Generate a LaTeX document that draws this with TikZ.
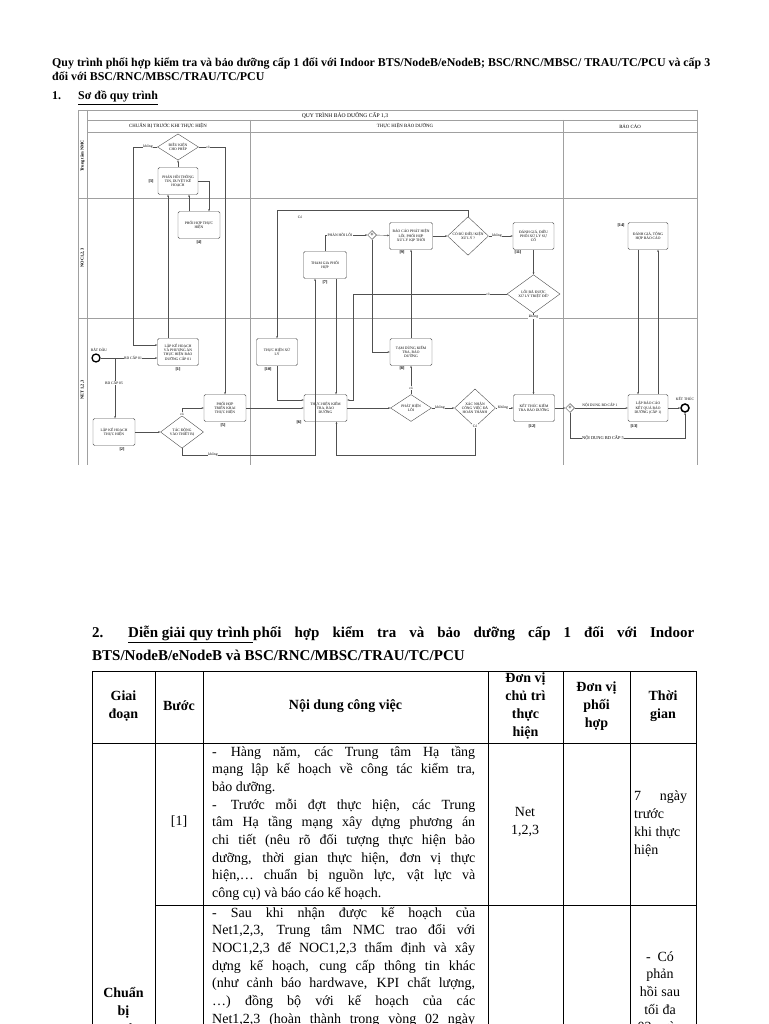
\documentclass[tikz,border=0pt]{standalone}
\usepackage{fontspec}
\setmainfont{Liberation Serif}
\usetikzlibrary{arrows.meta,positioning,calc,shapes.geometric}
\definecolor{lanegray}{HTML}{A0A0A0}
\definecolor{linegray}{HTML}{505050}
\newcommand{\dtiny}{\fontsize{3.7}{4.3}\selectfont}
\newcommand{\jl}[1]{\makebox[263pt][s]{#1}}

\begin{document}
\begin{tikzpicture}[x=1pt,y=-1pt,
    task/.style={draw=linegray, rounded corners=1.5pt, line width=0.45pt, minimum width=42pt, minimum height=27pt, align=center, font=\dtiny, inner sep=1pt},
    gate/.style={diamond, draw=linegray, line width=0.4pt, minimum width=41pt, minimum height=26pt, inner sep=0pt, align=center, font=\dtiny},
    plusgate/.style={diamond, draw=linegray, line width=0.5pt, minimum size=9pt, inner sep=0pt, font=\fontsize{6}{6}\selectfont\bfseries},
    event/.style={circle, draw=black, line width=1.1pt, minimum size=8pt, inner sep=0pt},
    flow/.style={-{Stealth[length=2.2pt,width=1.8pt]}, line width=0.4pt, color=linegray},
    lbl/.style={font=\dtiny, fill=white, inner sep=0.5pt},
    num/.style={font=\fontsize{4.2}{4.5}\selectfont\bfseries, inner sep=0pt},
    lane/.style={draw=lanegray, line width=0.6pt},
    tbl/.style={draw=black, line width=0.9pt},
    cell/.style={font=\fontsize{14}{17.7}\selectfont, inner sep=0pt, align=left},
    hcell/.style={font=\fontsize{14}{18}\selectfont\bfseries, inner sep=0pt, align=center},
    tfont/.style={font=\fontsize{11.9}{13}\selectfont\bfseries, inner sep=0pt}
]
\useasboundingbox (0,0) rectangle (768,1024);
\clip (0,0) rectangle (768,1024);
\fill[white] (0,0) rectangle (768,1024);

% title
\node[tfont, anchor=base west] (title1) at (52,67) {Quy trình phối hợp kiểm tra và bảo dưỡng cấp 1 đối với Indoor BTS/NodeB/eNodeB; BSC/RNC/MBSC/ TRAU/TC/PCU và cấp 3};
\node[tfont, anchor=base west] (title2) at (52,81) {đối với BSC/RNC/MBSC/TRAU/TC/PCU};
\node[tfont, anchor=base west] (sec1) at (52,100) {1.};
\node[tfont, anchor=base west] (sec1t) at (78,100) {\underline{Sơ đồ quy trình}};

% swimlanes
\draw[lane] (78,110) -- (697,110);
\draw[lane] (87,120) -- (697,120);
\draw[lane] (87,132) -- (697,132);
\draw[lane] (78,198) -- (697,198);
\draw[lane] (78,318) -- (697,318);
\draw[lane] (78,110) -- (78,465);
\draw[lane] (87,110) -- (87,465);
\draw[lane] (250,120) -- (250,465);
\draw[lane] (563,120) -- (563,465);
\draw[lane] (697,110) -- (697,465);

\node[font=\fontsize{5.6}{6}\selectfont] (dtitle) at (345,115) {QUY TRÌNH BẢO DƯỠNG CẤP 1,3};
\node[font=\fontsize{4.8}{5}\selectfont] (ph1) at (168,126) {CHUẨN BỊ TRƯỚC KHI THỰC HIỆN};
\node[font=\fontsize{4.8}{5}\selectfont] (ph2) at (405,126) {THỰC HIỆN BẢO DƯỠNG};
\node[font=\fontsize{4.8}{5}\selectfont] (ph3) at (630,126) {BÁO CÁO};
\node[rotate=90, font=\fontsize{4.4}{5}\selectfont\bfseries] (lnmc) at (82.5,156) {Trung tâm NMC};
\node[rotate=90, font=\fontsize{4.4}{5}\selectfont\bfseries] (lnoc) at (82.5,258) {NOC1,2,3};
\node[rotate=90, font=\fontsize{4.4}{5}\selectfont\bfseries] (lnet) at (82.5,390) {NET 1,2,3};

% NMC lane
\node[gate] (d1) at (178,147) {ĐIỀU KIỆN\\CHO PHÉP};
\node[task, minimum width=40pt] (t3) at (178,181) {PHẢN HỒI THÔNG\\TIN, DUYỆT KẾ\\HOẠCH};
\node[num] (n3) at (151,181) {[3]};

% NOC lane
\node[task] (t4) at (199,225) {PHỐI HỢP THỰC\\HIỆN};
\node[num] (n4) at (199,242) {[4]};
\node[task, minimum width=43pt] (t7) at (325,265) {THAM GIA PHỐI\\HỢP};
\node[num] (n7) at (325,282) {[7]};
\node[plusgate] (g1) at (372,235) {+};
\node[task, minimum width=43pt] (t9) at (411,236) {BÁO CÁO PHÁT HIỆN\\LỖI, PHỐI HỢP\\XỬ LÝ KỊP THỜI};
\node[num] (n9) at (402,252) {[9]};
\node[gate] (d2) at (468,236) {CÓ ĐỦ ĐIỀU KIỆN\\XỬ LÝ ?};
\node[task, minimum width=41pt] (t11) at (533.5,236) {ĐÁNH GIÁ, ĐIỀU\\PHỐI XỬ LÝ SỰ\\CỐ};
\node[num] (n11) at (518,252) {[11]};
\node[gate, minimum width=53pt, minimum height=28pt] (d3) at (533.5,294) {LỖI ĐÃ ĐƯỢC\\XỬ LÝ TRIỆT ĐỂ?};
\node[task, minimum width=40pt] (t14) at (648,236) {ĐÁNH GIÁ, TỔNG\\HỢP BÁO CÁO};
\node[num] (n14) at (621,225) {[14]};

% NET lane
\node[event, line width=1.3pt] (start) at (96,358) {};
\node[font=\dtiny] (lstart) at (99,350) {BẮT ĐẦU};
\node[task, minimum width=41pt] (t1) at (178,352) {LẬP KẾ HOẠCH\\VÀ PHƯƠNG ÁN\\THỰC HIỆN BẢO\\DƯỠNG CẤP 01};
\node[num] (n1) at (178,369) {[1]};
\node[task] (t2) at (114,432) {LẬP KẾ HOẠCH\\THỰC HIỆN};
\node[num] (n2) at (122,449) {[2]};
\node[gate, minimum width=43pt] (d4) at (182,432) {TÁC ĐỘNG\\VÀO THIẾT BỊ};
\node[task] (t5) at (225,408) {PHỐI HỢP\\TRIỂN KHAI\\THỰC HIỆN};
\node[num] (n5) at (223,425.5) {[5]};
\node[task, minimum width=41pt] (t10) at (277,352) {THỰC HIỆN XỬ\\LÝ};
\node[num] (n10) at (268,369) {[10]};
\node[task, minimum width=43pt] (t6) at (325.5,408) {THỰC HIỆN KIỂM\\TRA, BẢO\\DƯỠNG};
\node[num] (n6) at (299,422) {[6]};
\node[task] (t8) at (411,352) {TẠM DỪNG KIỂM\\TRA, BẢO\\DƯỠNG};
\node[num] (n8) at (402,368) {[8]};
\node[gate] (d5) at (411,408) {PHÁT HIỆN\\LỖI};
\node[gate] (d6) at (475,408) {XÁC NHẬN\\CÔNG VIỆC ĐÃ\\HOÀN THÀNH};
\node[task, minimum width=41pt] (t12) at (534,408) {KẾT THÚC KIỂM\\TRA BẢO DƯỠNG};
\node[num] (n12) at (532,426) {[12]};
\node[plusgate] (g2) at (570,408) {+};
\node[task, minimum width=40pt] (t13) at (648,408) {LẬP BÁO CÁO\\KẾT QUẢ BẢO\\DƯỠNG (CẤP 1)};
\node[num] (n13) at (634,426) {[13]};
\node[event, line width=1.5pt] (endev) at (685,408) {};
\node[font=\dtiny] (lend) at (685,399) {KẾT THÚC};
\coordinate (split) at (115,358);

% connectors
\draw[flow] (d1.west) -- (133,147) |- ([yshift=7pt]t1.west);
\node[lbl] (lk1) at (148,147) {không};
\draw[flow] (d1.east) -| (t5.north);
\node[lbl] (lc1) at (208,147) {có};
\draw[flow] (t3) -- (d1);
\draw[flow] (t3.east) -| ([xshift=10pt]t4.north);
\draw[flow] ([xshift=-10pt]t4.north) -- ([xshift=-10pt]t4.north |- t3.south);
\draw[flow] ([xshift=-10pt]t1.north) -- ([xshift=-10pt]t1.north |- t3.south);
\draw[flow] (start.east) -- (start.east -| t1.west);
\node[lbl] (lbd1) at (133,358) {BD CẤP 01};
\draw[flow] (split) -- (split |- t2.north);
\node[lbl] (lbd5) at (114,383) {BD CẤP 05};
\draw[flow] (t2) -- (d4);
\draw[flow] (d4.north) |- (t5.west);
\node[lbl] (lc4) at (182,414) {có};
\draw[flow] (d4.south) -- (182,455) -| ([xshift=-10pt]t7.south);
\node[lbl] (lk4) at (213,455) {không};
\draw[flow] (t5) -- (t6);
\draw[flow] (t10.south) |- ([yshift=8pt]t6.west);
\draw[flow] (d2.north) -- ([yshift=6pt]d2.north) -| (t10.north);
\node[lbl] (lc2) at (300,217) {Có};
\draw[flow] (t7.north) |- (g1.west);
\node[lbl] (lph) at (340,235) {PHẢN HỒI LỖI};
\draw[flow] (g1) -- (t9);
\draw[flow] (t9) -- (d2);
\draw[flow] (d2) -- (t11);
\node[lbl] (lk2) at (497,236) {không};
\draw[flow] (t11) -- (d3);
\draw[flow] (d3.west) -- (353,294) |- ([yshift=8pt]t6.east);
\node[lbl] (lc3) at (488,294) {có};
\draw[flow] (d3.south) -- (d3.south |- t12.north);
\node[lbl] (lk3) at (533.5,317) {không};
\draw[flow] (g1.south) |- (t8.west);
\draw[flow] ([xshift=11pt]t7.south) -- ([xshift=11pt]t7.south |- t6.north);
\draw[flow] (t6) -- (d5);
\draw[flow] (d5) -- (t8);
\node[lbl] (lc5) at (411,388) {có};
\draw[flow] (t8) -- (t9);
\draw[flow] (d5) -- (d6);
\node[lbl] (lk5) at (440,408) {không};
\draw[flow] (d6) -- (t12);
\node[lbl] (lk6) at (503,408) {Không};
\draw[flow] (d6.south) -- (475,455) -| ([xshift=11pt]t6.south);
\node[lbl] (lc6) at (475,426) {Có};
\draw[flow] (t12) -- (g2);
\draw[flow] (g2) -- (t13);
\node[font=\dtiny, inner sep=0.5pt] (lnd1) at (600,405) {NỘI DUNG BD CẤP 1};
\draw[flow] (g2.south) -- (570,438) -| (endev.south);
\node[lbl, font=\fontsize{4.4}{5}\selectfont] (lnd5) at (603,438) {NỘI DUNG BD CẤP 5};
\draw[flow] (t13) -- (endev);
\draw[flow] ([xshift=-10pt]t14.south) -- ([xshift=-10pt]t14.south |- t13.north);
\draw[flow] ([xshift=10pt]t13.north) -- ([xshift=10pt]t13.north |- t14.south);

% section 2
\node[font=\fontsize{15}{20}\selectfont\bfseries, inner sep=0pt, anchor=base west] (sec2) at (92,637) {2.};
\node[font=\fontsize{15}{20}\selectfont\bfseries, inner sep=0pt, anchor=base west] (sec2a) at (128,637) {\makebox[566pt][s]{\underline{Diễn giải quy trình\ }phối hợp kiểm tra và bảo dưỡng cấp 1 đối với Indoor}};
\node[font=\fontsize{15}{20}\selectfont\bfseries, inner sep=0pt, anchor=base west] (sec2b) at (92,660) {BTS/NodeB/eNodeB và BSC/RNC/MBSC/TRAU/TC/PCU};

% table (multi-line cells are placed by the baseline of their last line)
\draw[tbl] (92,671) -- (696,671);
\draw[tbl] (92,743) -- (696,743);
\draw[tbl] (155,905) -- (696,905);
\foreach \x in {92,155,203,488,563,630,696}
  \draw[tbl] (\x,671) -- (\x,1030);

\node[hcell] (hgiai) at (123.5,706) {Giai\\đoạn};
\node[hcell] (hbuoc) at (179,706) {Bước};
\node[hcell] (hnoi) at (345.5,706) {Nội dung công việc};
\node[hcell] (hchu) at (525.5,706) {Đơn vị\\chủ trì\\thực\\hiện};
\node[hcell] (hphoi) at (596.5,706) {Đơn vị\\phối\\hợp};
\node[hcell] (htg) at (663,706) {Thời\\gian};

\node[cell, align=center] (b1) at (179,822) {[1]};
\node[cell, anchor=base west] (c1) at (212,897.6) {\jl{-\hspace{14pt}Hàng năm, các Trung tâm Hạ tầng}\\
\jl{mạng lập kế hoạch về công tác kiểm tra,}\\
bảo dưỡng.\\
\jl{-\hspace{14pt}Trước mỗi đợt thực hiện, các Trung}\\
\jl{tâm Hạ tầng mạng xây dựng phương án}\\
\jl{chi tiết (nêu rõ đối tượng thực hiện bảo}\\
\jl{dưỡng, thời gian thực hiện, đơn vị thực}\\
\jl{hiện,… chuẩn bị nguồn lực, vật lực và}\\
công cụ) và báo cáo kế hoạch.};
\node[cell, align=center] (u1) at (525,822) {Net\\1,2,3};
\node[cell, anchor=base west] (tg1) at (634,854) {\makebox[53pt][s]{7 ngày}\\trước\\khi thực\\hiện};

\node[hcell, anchor=base] (giai1) at (123.5,1033) {Chuẩn\\bị\\trước};
\node[cell, anchor=base west] (c2) at (212,1023.2) {\jl{-\hspace{14pt}Sau khi nhận được kế hoạch của}\\
\jl{Net1,2,3, Trung tâm NMC trao đổi với}\\
\jl{NOC1,2,3 để NOC1,2,3 thẩm định và xây}\\
\jl{dựng kế hoạch, cung cấp thông tin khác}\\
\jl{(như cảnh báo hardwave, KPI chất lượng,}\\
\jl{…) đồng bộ với kế hoạch của các}\\
\jl{Net1,2,3 (hoàn thành trong vòng 02 ngày}};
\node[cell, align=center, anchor=base] (tg2) at (660,1031.8) {- \ Có\\phản\\hồi sau\\tối đa\\02 ngày};
\end{tikzpicture}
\end{document}
